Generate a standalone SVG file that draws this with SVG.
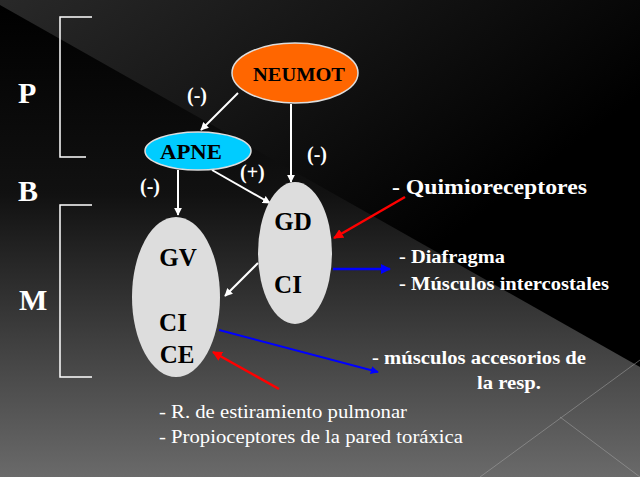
<svg xmlns="http://www.w3.org/2000/svg" width="640" height="477" viewBox="0 0 640 477">
<defs>
<linearGradient id="g1" x1="0" y1="0" x2="0" y2="1"><stop offset="0" stop-color="#000"/><stop offset="0.4" stop-color="#111"/><stop offset="1" stop-color="#6a6a6a"/></linearGradient>
<linearGradient id="g2" x1="0" y1="0" x2="1" y2="1"><stop offset="0" stop-color="#3a3a3a"/><stop offset="0.6" stop-color="#000"/></linearGradient>
<marker id="aw" viewBox="0 0 10 10" refX="9" refY="5" markerWidth="4" markerHeight="4" orient="auto"><path d="M0,0L10,5L0,10z" fill="#fff"/></marker>
<marker id="ar" viewBox="0 0 10 10" refX="9" refY="5" markerWidth="4" markerHeight="4" orient="auto"><path d="M0,0L10,5L0,10z" fill="#f00"/></marker>
<marker id="ab" viewBox="0 0 10 10" refX="9" refY="5" markerWidth="4" markerHeight="4" orient="auto"><path d="M0,0L10,5L0,10z" fill="#00f"/></marker>
<style>
text{font-family:"Liberation Serif","Times New Roman",serif;font-weight:bold;fill:#fff}
.big{font-size:30px}
.lab{font-size:20px}
.nd{font-size:25px;fill:#000}
.w{stroke:#fff;stroke-width:2;fill:none;marker-end:url(#aw)}
</style>
</defs>
<rect width="640" height="477" fill="#000"/>
<rect width="640" height="477" fill="url(#g2)" opacity="0.7"/>
<polygon points="0,5 640,367 640,477 0,477" fill="url(#g1)"/>
<path d="M480,477L640,360M640,477L560,417" stroke="#aaa" stroke-width="1" opacity="0.5" fill="none"/>
<g id="brackets" stroke="#fff" stroke-width="1.5" fill="none">
<path d="M92,17H60V157H86"/>
<path d="M92,205H60V377H92"/>
</g>
<text class="big" x="18" y="103">P</text>
<text class="big" x="18" y="201">B</text>
<text class="big" x="19" y="310">M</text>
<g id="connectors">
<line class="w" x1="238" y1="93" x2="201" y2="130"/>
<line class="w" x1="291" y1="104" x2="291" y2="182"/>
<line class="w" x1="178" y1="170" x2="178" y2="215"/>
<line class="w" x1="212" y1="170" x2="270" y2="203"/>
<line class="w" x1="258" y1="263" x2="225" y2="296"/>
<line x1="405" y1="197" x2="334" y2="238" stroke="#f00" stroke-width="2.5" marker-end="url(#ar)"/>
<line x1="333" y1="269" x2="390" y2="269" stroke="#00f" stroke-width="2.5" marker-end="url(#ab)"/>
<line x1="219" y1="330" x2="378" y2="372" stroke="#00f" stroke-width="2" marker-end="url(#ab)"/>
<line x1="279" y1="389" x2="213" y2="352" stroke="#f00" stroke-width="2.5" marker-end="url(#ar)"/>
</g>
<text class="lab" x="187" y="102">(-)</text>
<text class="lab" x="307" y="161">(-)</text>
<text class="lab" x="140" y="193">(-)</text>
<text class="lab" x="240" y="179">(+)</text>
<g id="neumot"><ellipse cx="295" cy="73" rx="63" ry="30" fill="#ff6600" stroke="#ddd" stroke-width="1.5"/><text x="253" y="81" textLength="92" lengthAdjust="spacingAndGlyphs" style="font-size:19px;fill:#000">NEUMOT</text></g>
<g id="apne"><ellipse cx="198" cy="151" rx="53" ry="19" fill="#00ccff" stroke="#ddd" stroke-width="1.5"/><text x="160" y="159" textLength="62" lengthAdjust="spacingAndGlyphs" style="font-size:20px;fill:#000">APNE</text></g>
<g id="gd"><ellipse cx="295" cy="253" rx="37" ry="71" fill="#ddd"/><text class="nd" x="293" y="230" text-anchor="middle">GD</text><text class="nd" x="288" y="293" text-anchor="middle">CI</text></g>
<g id="gv"><ellipse cx="176" cy="297" rx="44" ry="80" fill="#ddd"/><text class="nd" x="178" y="266" text-anchor="middle">GV</text><text class="nd" x="173" y="331" text-anchor="middle">CI</text><text class="nd" x="177" y="363" text-anchor="middle">CE</text></g>
<text x="392" y="194" textLength="195" lengthAdjust="spacingAndGlyphs" style="font-size:21px">- Quimioreceptores</text>
<text x="399" y="263" textLength="106" lengthAdjust="spacingAndGlyphs" style="font-size:18px">- Diafragma</text>
<text x="399" y="290" textLength="210" lengthAdjust="spacingAndGlyphs" style="font-size:18px">- Músculos intercostales</text>
<text x="372" y="364" textLength="214" lengthAdjust="spacingAndGlyphs" style="font-size:18px">- músculos accesorios de</text>
<text x="477" y="389" textLength="64" lengthAdjust="spacingAndGlyphs" style="font-size:18px">la resp.</text>
<text x="159" y="418" textLength="248" lengthAdjust="spacingAndGlyphs" style="font-size:18px;font-weight:normal">- R. de estiramiento pulmonar</text>
<text x="159" y="443" textLength="304" lengthAdjust="spacingAndGlyphs" style="font-size:18px;font-weight:normal">- Propioceptores de la pared toráxica</text>
</svg>
